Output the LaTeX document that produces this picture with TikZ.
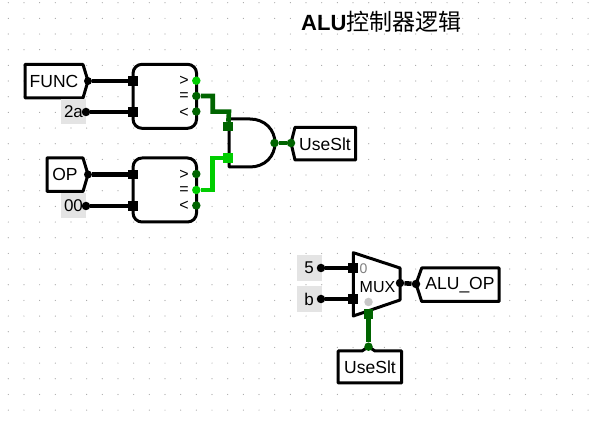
\documentclass[tikz,border=0pt]{standalone}
\usepackage{fontspec}
\setmainfont{Liberation Sans}
\newfontfamily\cjk{Noto Sans CJK SC}
\definecolor{wireoff}{RGB}{0,100,0}
\definecolor{wireon}{RGB}{0,205,0}
\definecolor{constgray}{RGB}{228,228,228}
\definecolor{griddot}{RGB}{165,165,165}
\tikzset{
    outline/.style={draw=black, line width=3pt, fill=white, line join=round},
    wire/.style={line width=4.6pt, line join=miter},
    txt/.style={inner sep=0pt, font=\fontsize{17.5}{20}\selectfont},
    cmptxt/.style={inner sep=0pt, font=\fontsize{16}{16}\selectfont},
    constbox/.style={fill=constgray, inner sep=0pt, minimum width=25pt, minimum height=25pt, font=\fontsize{17}{20}\selectfont},
    portdot/.style={circle, fill=#1, inner sep=0pt, minimum size=8.5pt},
    portsq/.style={rectangle, fill=#1, inner sep=0pt, minimum size=9.5pt},
    cmpbox/.style={outline, rectangle, rounded corners=9pt, inner sep=0pt, minimum width=63.5pt, minimum height=64pt}
}
\begin{document}
\begin{tikzpicture}[x=1pt,y=-1pt]
    \useasboundingbox (0,0) rectangle (600,427);
    \fill[white] (0,0) rectangle (600,427);
    \foreach \i in {0,...,37}
        \foreach \j in {0,...,26}
            \fill[griddot] (8.3+15.67*\i,2.7+15.67*\j) circle (0.6pt);
    \node[inner sep=0pt, anchor=base west] (title) at (301,30.5) {\fontsize{22}{24}\selectfont\textbf{ALU}\fontsize{23}{24}\selectfont\cjk 控制器逻辑};

    % comparators
    \node[cmpbox] (cmpa) at (164.8,96.3) {};
    \node[cmpbox] (cmpb) at (164.8,190) {};
    \node[cmptxt] (cmpa_gt) at (184,80.8) {>};
    \node[cmptxt] (cmpa_eq) at (184,96.5) {=};
    \node[cmptxt] (cmpa_lt) at (184,112.5) {<};
    \node[cmptxt] (cmpb_gt) at (184,174.8) {>};
    \node[cmptxt] (cmpb_eq) at (184,190.5) {=};
    \node[cmptxt] (cmpb_lt) at (184,206.2) {<};

    % pins
    \draw[outline] (25,64.5) -- (83,64.5) -- (88,81) -- (83,98) -- (25,98) -- cycle;
    \node[txt] (func) at (54,81) {FUNC};
    \draw[outline] (47,158) -- (83,158) -- (88,174.5) -- (83,191.5) -- (47,191.5) -- cycle;
    \node[txt] (op) at (65,174.5) {OP};
    \node[constbox] (cna) at (73.5,112) {2a};
    \node[constbox] (cnb) at (73.5,206) {00};
    \node[portdot=black, minimum size=8pt] (func_p) at (88,81) {};
    \node[portdot=black, minimum size=8pt] (op_p) at (88,174.5) {};
    \node[portdot=black] (cna_p) at (86,112) {};
    \node[portdot=black] (cnb_p) at (86,206) {};
    \node[portsq=black] (cmpa_a) at (133,81) {};
    \node[portsq=black] (cmpa_b) at (133,112) {};
    \node[portsq=black] (cmpb_a) at (133,174.5) {};
    \node[portsq=black] (cmpb_b) at (133,206) {};
    \draw[wire] (func_p) -- (cmpa_a);
    \draw[wire] (cna_p) -- (cmpa_b);
    \draw[wire] (op_p) -- (cmpb_a);
    \draw[wire] (cnb_p) -- (cmpb_b);

    % and gate
    \draw[outline] (229,119) -- (250,119) .. controls (265,119) and (275,130) .. (275,143) .. controls (275,156) and (265,167) .. (250,167) -- (229,167) -- cycle;
    \node[portsq=wireoff] (and_a) at (228,126.7) {};
    \node[portsq=wireon] (and_b) at (228,158) {};
    \node[portdot=wireoff] (and_o) at (274.5,143) {};
    \node[portdot=wireon] (ga) at (196.3,80.7) {};
    \node[portdot=wireoff] (ea) at (196.3,96) {};
    \node[portdot=wireoff] (la) at (196.3,111.5) {};
    \node[portdot=wireoff] (gb) at (196.3,174) {};
    \node[portdot=wireon] (eb) at (196.3,190) {};
    \node[portdot=wireoff] (lb) at (196.3,205.5) {};
    \coordinate (ea1) at (212.7,111.7);
    \coordinate (ea2) at (229,111.7);
    \coordinate (eb1) at (212.7,158);
    \draw[wire, color=wireoff] (ea) -| (ea1) -- (ea2) -- (and_a);
    \draw[wire, color=wireon] (eb) -| (eb1) -- (and_b);

    % output pin
    \draw[outline] (355.7,127.3) -- (295,127.3) -- (291,143) -- (295,160) -- (355.7,160) -- cycle;
    \node[txt] (useslt) at (325,144) {UseSlt};
    \node[portdot=wireoff, minimum size=8.5pt] (useslt_p) at (291,143) {};
    \draw[wire, color=wireoff] (and_o) -- (useslt_p);

    % mux
    \draw[outline] (353.3,252.7) -- (400,268) -- (400,300) -- (353.3,316) -- cycle;
    \node[inner sep=0pt, font=\fontsize{14}{15}\selectfont, text=gray] (mux_z) at (363.5,269) {0};
    \node[inner sep=0pt, font=\fontsize{16}{18}\selectfont] (mux) at (377.5,287) {MUX};
    \node[portdot=black!22] (mux_s) at (368.5,302) {};
    \node[constbox, minimum height=25.5pt] (cnc) at (309,268) {5};
    \node[constbox, minimum height=25.5pt] (cnd) at (309,299) {b};
    \node[portdot=black] (cnc_p) at (321,268) {};
    \node[portdot=black] (cnd_p) at (321,299) {};
    \node[portsq=black] (mux_a) at (353,268) {};
    \node[portsq=black] (mux_b) at (353,299) {};
    \node[portdot=black] (mux_o) at (400,283) {};
    \draw[wire] (cnc_p) -- (mux_a);
    \draw[wire] (cnd_p) -- (mux_b);

    % alu pin
    \draw[outline] (499,268) -- (421.7,268) -- (416,284) -- (421.7,301.5) -- (499,301.5) -- cycle;
    \node[txt] (aluop) at (460,285) {ALU\_OP};
    \node[portdot=black, minimum size=8.5pt] (aluop_p) at (416,284) {};
    \draw[wire] (mux_o) -- (aluop_p);

    % select pin
    \draw[outline] (338,351) -- (362,351) -- (368.5,346.7) -- (375,351) -- (401.7,351) -- (401.7,383) -- (338,383) -- cycle;
    \node[txt] (sel) at (370,367.5) {UseSlt};
    \node[portsq=wireoff] (mux_c) at (368.5,314) {};
    \node[portdot=wireoff, minimum size=8.5pt] (sel_p) at (368.5,346.7) {};
    \draw[wire, color=wireoff] (mux_c) -- (sel_p);
\end{tikzpicture}
\end{document}
